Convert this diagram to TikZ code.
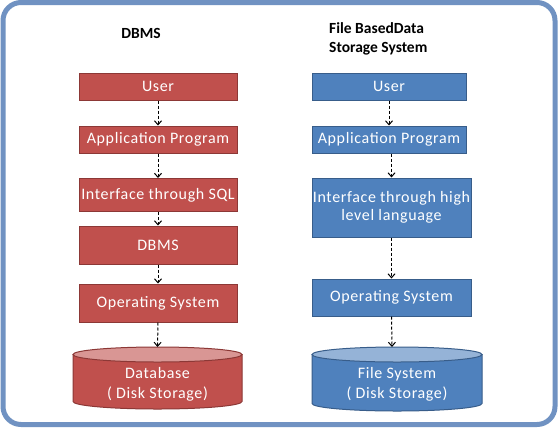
\documentclass[tikz,border=0pt]{standalone}
\usepackage{fontspec}
\setmainfont{Carlito}
\newfontfamily\boxfont[LetterSpace=4]{Carlito}
\usetikzlibrary{arrows.meta}
\definecolor{frame}{HTML}{7092C2}
\definecolor{redfill}{HTML}{C0504D}
\definecolor{redline}{HTML}{8C3836}
\definecolor{redtop}{HTML}{D99694}
\definecolor{bluefill}{HTML}{4F81BD}
\definecolor{blueline}{HTML}{385D8A}
\definecolor{bluetop}{HTML}{95B3D7}
\tikzset{
  x=1pt, y=1pt,
  rbox/.style={draw=redline, fill=redfill, line width=1pt, text=white, font=\boxfont\fontsize{16}{18}\selectfont, inner sep=0pt, align=center},
  bbox/.style={draw=blueline, fill=bluefill, line width=1pt, text=white, font=\boxfont\fontsize{16}{18}\selectfont, inner sep=0pt, align=center},
  cyltext/.style={text=white, font=\boxfont\fontsize{16}{20}\selectfont, align=center, inner sep=0pt},
  flow/.style={draw=black, line width=1pt, dash pattern=on 3pt off 2pt, -{Straight Barb[length=4pt,width=7pt]}},
  title/.style={font=\bfseries\fontsize{15.5}{19}\selectfont, align=left, inner sep=0pt}
}
\begin{document}
\begin{tikzpicture}
\useasboundingbox (0,0) rectangle (559,-429);
\fill[white] (0,0) rectangle (559,-429);
\draw[frame, line width=5pt, rounded corners=18pt] (3,-2.5) rectangle (555,-424.5);

% titles
\node[title, anchor=center] (t1) at (141,-33) {DBMS};
\node[title, anchor=west] (t2) at (329,-38.5) {File BasedData\\Storage System};

% left column
\node[rbox, minimum width=158, minimum height=27] (u1) at (158,-86.5) {User};
\node[rbox, minimum width=158, minimum height=27] (a1) at (158,-139.5) {Application Program};
\node[rbox, minimum width=158, minimum height=33] (i1) at (158,-195) {Interface through SQL};
\node[rbox, minimum width=158, minimum height=38] (d1) at (158,-245) {DBMS};
\node[rbox, minimum width=158, minimum height=38] (o1) at (158,-303) {Operating System};

% left cylinder
\draw[redline, fill=redfill, line width=1pt] (73,-354.5) -- (73,-401.5)
  arc[start angle=180, end angle=360, x radius=84.5, y radius=7.5] -- (242,-354.5) -- cycle;
\draw[redline, fill=redtop, line width=1pt] (157.5,-354.5) ellipse[x radius=84.5, y radius=7.5];
\coordinate (c1) at (157.5,-347);
\node[cyltext] (db1) at (157.5,-384) {Database\\( Disk Storage)};

% right column
\node[bbox, minimum width=154, minimum height=27] (u2) at (389,-86.5) {User};
\node[bbox, minimum width=154, minimum height=27] (a2) at (389,-139.5) {Application Program};
\node[bbox, minimum width=159, minimum height=59] (i2) at (391.5,-207.5) {Interface through high\\level language};
\node[bbox, minimum width=159, minimum height=37] (o2) at (391.5,-297.5) {Operating System};

% right cylinder
\draw[blueline, fill=bluefill, line width=1pt] (312,-354.5) -- (312,-403.5)
  arc[start angle=180, end angle=360, x radius=85, y radius=7.5] -- (482,-354.5) -- cycle;
\draw[blueline, fill=bluetop, line width=1pt] (397,-354.5) ellipse[x radius=85, y radius=7.5];
\coordinate (c2) at (392,-347);
\node[cyltext] (db2) at (397,-384) {File System\\( Disk Storage)};

% connectors
\draw[flow] (u1.south) -- (a1.north);
\draw[flow] (a1.south) -- (i1.north);
\draw[flow] (i1.south) -- (d1.north);
\draw[flow] (d1.south) -- (o1.north);
\draw[flow] (o1.south) -- (c1);

\draw[flow] (u2.south) -- (a2.north);
\draw[flow] (a2.south -| i2.north) -- (i2.north);
\draw[flow] (i2.south) -- (o2.north);
\draw[flow] (o2.south) -- (c2);
\end{tikzpicture}
\end{document}
